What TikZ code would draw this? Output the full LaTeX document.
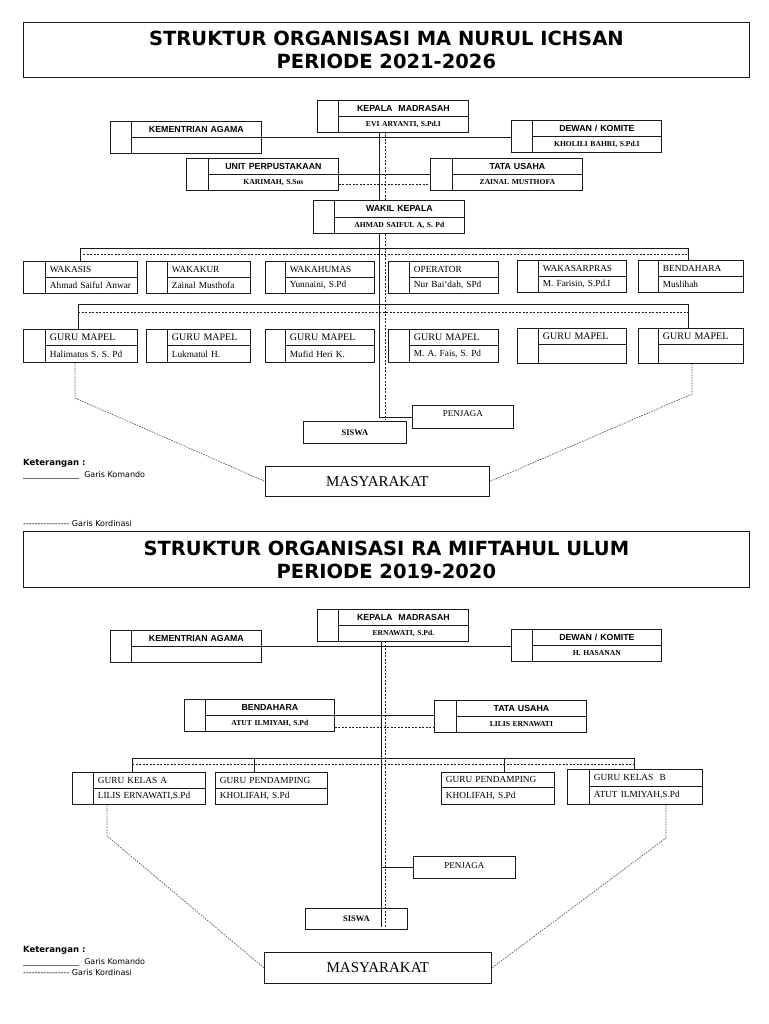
\documentclass[tikz,border=0pt]{standalone}
\usepackage{fontspec}
\setmainfont{Liberation Serif}
\newfontfamily\arialfont{Liberation Sans}
\newfontfamily\dejafont{DejaVu Sans}
\definecolor{ink}{HTML}{1A1A1A}
\definecolor{inkgray}{HTML}{555555}
% box with a small left cell and two stacked halves
\newcommand{\orgbox}[9]{%
  \pgfmathsetmacro{\orgw}{#4-#3-9}%
  \node[cell,inner sep=0pt,anchor=north west,minimum width=#3pt-#2pt,minimum height=#7pt-#5pt] (#1-l) at (#2,#5) {};
  \node[cell,boxtop,anchor=north west,text width=\orgw pt,minimum height=#6pt-#5pt] (#1-t) at (#3,#5) {#8};
  \node[cell,boxbot,anchor=north west,text width=\orgw pt,minimum height=#7pt-#6pt] (#1-b) at (#3,#6) {#9};
}

\begin{document}
\begin{tikzpicture}[x=1pt,y=-1pt,
  cell/.style={draw=ink,fill=white,line width=0.8pt,inner xsep=4.5pt,inner ysep=0pt},
  plain/.style={draw=ink,fill=white,line width=0.8pt,inner sep=0pt,anchor=north west},
  cmd/.style={draw=ink,line width=0.8pt},
  crd/.style={draw=ink,line width=0.8pt,dash pattern=on 2pt off 1.5pt},
  crdthin/.style={draw=inkgray,line width=0.7pt,dash pattern=on 1.5pt off 1.2pt},
  ttl/.style={font=\dejafont\bfseries\fontsize{19.5}{23}\selectfont,align=center},
  note/.style={font=\dejafont\fontsize{8}{9}\selectfont,anchor=west,inner sep=0pt},
  notehd/.style={note,font=\dejafont\bfseries\fontsize{8.5}{10}\selectfont}]
  \useasboundingbox (0,0) rectangle (768,1024);
  \fill[white] (0,0) rectangle (768,1024);

  % ================= MA NURUL ICHSAN =================
  \node[plain,ttl,minimum width=726pt,minimum height=55pt] (ttl1) at (23,22)
    {STRUKTUR ORGANISASI MA NURUL ICHSAN\\PERIODE 2021-2026};

  % ---- top blocks ----
  \tikzset{boxtop/.style={font=\arialfont\bfseries\fontsize{8.8}{10}\selectfont,align=center},
           boxbot/.style={font=\bfseries\fontsize{7.6}{9}\selectfont,align=center}}
  \orgbox{kep1}{317}{338}{468}{100}{116}{132}{KEPALA\ \ MADRASAH}{EVI ARYANTI, S.Pd.I}
  \orgbox{kem1}{110}{131}{261}{121}{137}{153}{KEMENTRIAN AGAMA}{}
  \orgbox{dew1}{511}{532}{661}{120}{136}{152}{DEWAN / KOMITE}{KHOLILI BAHRI, S.Pd.I}
  \orgbox{unit1}{186}{208}{338}{158}{174}{190}{UNIT PERPUSTAKAAN}{KARIMAH, S.Sos}
  \orgbox{tata1}{430}{452}{582}{158}{174}{190}{TATA USAHA}{ZAINAL MUSTHOFA}
  \orgbox{wak1}{313}{334}{464}{200}{217}{233}{WAKIL KEPALA}{AHMAD SAIFUL A, S. Pd}

  % ---- wakil rows ----
  \tikzset{boxtop/.style={font=\fontsize{9.3}{10}\selectfont,align=left},
           boxbot/.style={font=\fontsize{9.3}{10}\selectfont,align=left}}
  \orgbox{wks}{23}{45}{137}{261}{277}{293}{WAKASIS}{Ahmad Saiful Anwar}
  \orgbox{wkk}{146}{167}{250}{261}{277}{293}{WAKAKUR}{Zainal Musthofa}
  \orgbox{whm}{265}{285}{374}{261}{277}{293}{WAKAHUMAS}{Yunnaini, S.Pd}
  \orgbox{opr}{388}{409}{498}{261}{277}{293}{OPERATOR}{Nur Bai‘dah, SPd}
  \orgbox{wsp}{517}{538}{626}{260}{276}{292}{WAKASARPRAS}{M. Farisin, S.Pd.I}
  \orgbox{bnd}{638}{658}{743}{260}{276}{292}{BENDAHARA}{Muslihah}

  % ---- guru mapel ----
  \tikzset{boxtop/.style={font=\fontsize{10}{11}\selectfont,align=left}}
  \orgbox{gm1}{23}{45}{137}{329}{345}{362}{GURU MAPEL}{Halimatus S. S. Pd}
  \orgbox{gm2}{146}{167}{250}{329}{345}{362}{GURU MAPEL}{Lukmatul H.}
  \orgbox{gm3}{265}{285}{374}{329}{345}{362}{GURU MAPEL}{Mufid Heri K.}
  \orgbox{gm4}{388}{409}{498}{329}{345}{362}{GURU MAPEL}{M. A. Fais, S. Pd}
  \orgbox{gm5}{517}{538}{626}{328}{344}{363}{GURU MAPEL}{}
  \orgbox{gm6}{638}{658}{743}{328}{344}{363}{GURU MAPEL}{}

  % ---- bottom ----
  \node[plain,minimum width=101pt,minimum height=23pt] (pen1) at (412,405) {};
  \node[font=\fontsize{9}{10}\selectfont,anchor=north,inner sep=0pt] (pen1txt) at ([yshift=-5pt]pen1.north) {PENJAGA};
  \node[plain,minimum width=103pt,minimum height=22pt,font=\bfseries\fontsize{8.5}{9}\selectfont] (sis1) at (303,421) {SISWA};
  \node[plain,minimum width=224pt,minimum height=30pt,font=\fontsize{15}{17}\selectfont] (mas1) at (265,466) {MASYARAKAT};

  % ---- lines ----
  \coordinate (ax1) at (379,132);
  \coordinate (dx1) at (385,132);
  \coordinate (r1a) at (80,248);  \coordinate (r1b) at (688,248);
  \coordinate (r1c) at (83,254);  \coordinate (r1d) at (688,254);
  \coordinate (r2a) at (78,304);  \coordinate (r2b) at (688,304);
  \coordinate (r2c) at (78,312);  \coordinate (r2d) at (688,312);
  \coordinate (dl1) at (75,398);  \coordinate (dr1) at (692,394);
  \draw[cmd] (kem1-t.south east) -- (kem1-t.south east -| dew1-l.west);
  \draw[cmd] (ax1) -- (ax1 |- wak1-t.north);
  \draw[crd] (dx1) -- (dx1 |- wak1-t.north);
  \draw[cmd] (unit1-t.south east) -- (unit1-t.south east -| tata1-l.west);
  \draw[crd] ([yshift=-2pt]unit1-b.east) -- ([yshift=-2pt]unit1-b.east -| tata1-l.west);
  \draw[cmd] (ax1 |- wak1-b.south) |- (pen1.west);
  \draw[crd] (dx1 |- wak1-b.south) -- ([yshift=-3pt]dx1 |- pen1.west);
  \draw[cmd] (wks-t.north -| r1a) -- (r1a) -- (r1b) -- (r1b |- bnd-t.north);
  \draw[crd] (r1c) -- (r1d);
  \draw[cmd] (gm1-t.north -| r2a) -- (r2a) -- (r2b) -- (r2b |- gm6-t.north);
  \draw[crd] (r2c) -- (r2d);
  \draw[crdthin] (gm1-b.south -| dl1) -- (dl1) -- (mas1.west);
  \draw[crdthin] (gm6-b.south -| dr1) -- (dr1) -- (mas1.east);

  % ---- keterangan ----
  \node[notehd] (ket1) at (23,463) {Keterangan :};
  \node[note] (kom1) at (23,475) {\_\_\_\_\_\_\_\_\_\_\_\_\_\_\ \ Garis Komando};
  \node[note] (kor1) at (23,524) {-{}-{}-{}-{}-{}-{}-{}-{}-{}-{}-{}-{}-{}-{}-{}-{} Garis Kordinasi};

  % ================= RA MIFTAHUL ULUM =================
  \node[plain,ttl,minimum width=726pt,minimum height=56pt] (ttl2) at (23,531)
    {STRUKTUR ORGANISASI RA MIFTAHUL ULUM\\PERIODE 2019-2020};

  % ---- top blocks ----
  \tikzset{boxtop/.style={font=\arialfont\bfseries\fontsize{8.8}{10}\selectfont,align=center},
           boxbot/.style={font=\bfseries\fontsize{7.6}{9}\selectfont,align=center}}
  \orgbox{kep2}{317}{338}{468}{609}{625}{641}{KEPALA\ \ MADRASAH}{ERNAWATI, S.Pd.}
  \orgbox{kem2}{110}{131}{261}{630}{646}{662}{KEMENTRIAN AGAMA}{}
  \orgbox{dew2}{511}{532}{661}{629}{645}{661}{DEWAN / KOMITE}{H. HASANAN}
  \orgbox{bend2}{184}{205}{334}{699}{715}{731}{BENDAHARA}{ATUT ILMIYAH, S.Pd}
  \orgbox{tata2}{434}{456}{586}{700}{716}{732}{TATA USAHA}{LILIS ERNAWATI}

  % ---- guru rows ----
  \tikzset{boxtop/.style={font=\fontsize{9.3}{10}\selectfont,align=left},
           boxbot/.style={font=\fontsize{9.3}{10}\selectfont,align=left}}
  \orgbox{gka}{72}{93}{205}{772}{788}{804}{GURU KELAS A}{LILIS ERNAWATI,S.Pd}
  \orgbox{gp1}{215}{215}{327}{772}{788}{804}{GURU PENDAMPING}{KHOLIFAH, S.Pd}
  \orgbox{gp2}{441}{441}{554}{772}{787}{804}{GURU PENDAMPING}{KHOLIFAH, S.Pd}
  \orgbox{gkb}{567}{589}{702}{769}{786}{804}{GURU KELAS\ \ B}{ATUT ILMIYAH,S.Pd}

  % ---- bottom ----
  \node[plain,minimum width=102pt,minimum height=22pt] (pen2) at (413,856) {};
  \node[font=\fontsize{9}{10}\selectfont,anchor=north,inner sep=0pt] (pen2txt) at ([yshift=-6pt]pen2.north) {PENJAGA};
  \node[draw=ink,line width=0.8pt,inner sep=0pt,anchor=north west,minimum width=102pt,minimum height=21pt,font=\bfseries\fontsize{8.5}{9}\selectfont] (sis2) at (305,908) {SISWA\hspace{18pt}};
  \node[plain,minimum width=227pt,minimum height=31pt,font=\fontsize{15}{17}\selectfont] (mas2) at (264,952) {MASYARAKAT};

  % ---- lines ----
  \coordinate (ax2) at (381,641);
  \coordinate (dx2) at (385,641);
  \coordinate (ax2e) at (381,927);
  \coordinate (dx2e) at (385,927);
  \coordinate (r3a) at (132,758); \coordinate (r3b) at (634,758);
  \coordinate (r3c) at (132,764); \coordinate (r3d) at (634,764);
  \coordinate (dl2) at (107,836); \coordinate (dr2) at (666,838);
  \draw[cmd] (kem2-t.south east) -- (kem2-t.south east -| dew2-l.west);
  \draw[cmd] (ax2) -- (ax2e);
  \draw[crd] (dx2) -- (dx2e);
  \draw[cmd] (ax2 |- pen2.west) -- (pen2.west);
  \draw[cmd] (bend2-t.south east) -- (bend2-t.south east -| tata2-l.west);
  \draw[crd] ([yshift=-4pt]bend2-b.east) -- ([yshift=-4pt]bend2-b.east -| tata2-l.west);
  \draw[cmd] (gka-t.north -| r3a) -- (r3a) -- (r3b) -- (r3b |- gkb-t.north);
  \draw[cmd] (gp1-t.north -| 254,0) -- (r3a -| 254,0);
  \draw[cmd] (gp2-t.north -| 504,0) -- (r3a -| 504,0);
  \draw[crd] (r3c) -- (r3d);
  \draw[crdthin] (gka-b.south -| dl2) -- (dl2) -- (mas2.west);
  \draw[crdthin] (gkb-b.south -| dr2) -- (dr2) -- (mas2.east);

  % ---- keterangan ----
  \node[notehd] (ket2) at (23,950) {Keterangan :};
  \node[note] (kom2) at (23,962) {\_\_\_\_\_\_\_\_\_\_\_\_\_\_\ \ Garis Komando};
  \node[note] (kor2) at (23,973) {-{}-{}-{}-{}-{}-{}-{}-{}-{}-{}-{}-{}-{}-{}-{}-{} Garis Kordinasi};
\end{tikzpicture}
\end{document}
